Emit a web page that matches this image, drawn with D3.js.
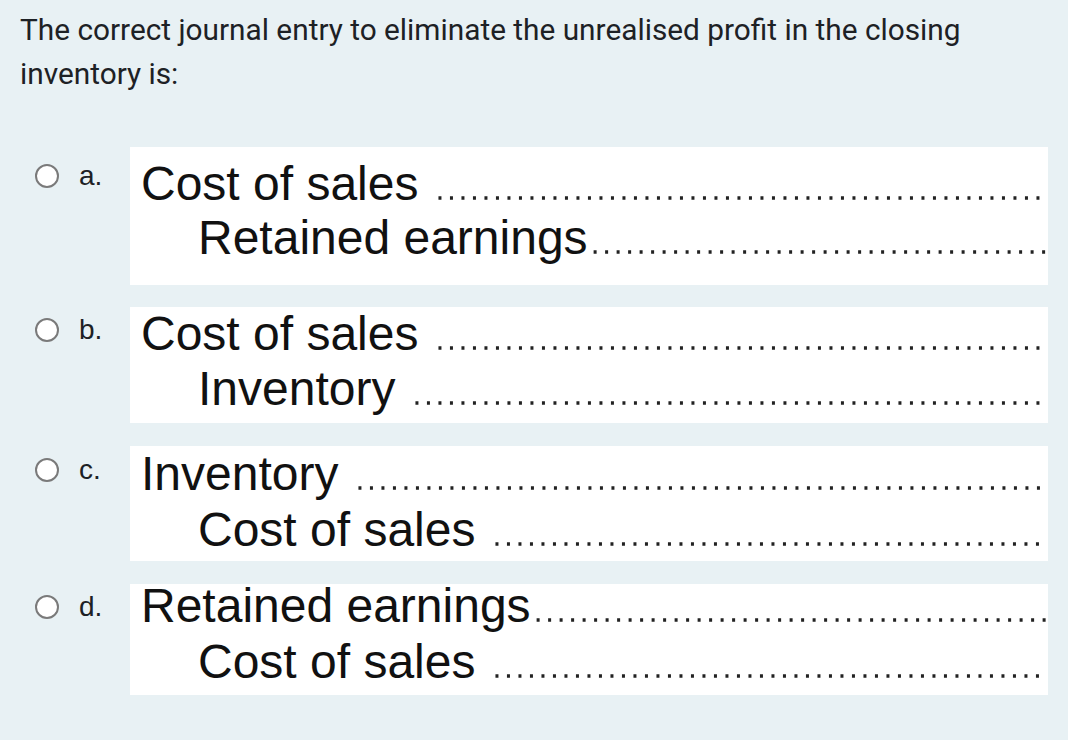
<!DOCTYPE html>
<html><head><meta charset="utf-8">
<script src="https://cdn.jsdelivr.net/npm/d3@7"></script>
<style>body{margin:0;background:#e8f1f4;}</style>
</head><body><div id="quiz"></div>
<script>
const width = 1068, height = 740;
const questionLines = ["The correct journal entry to eliminate the unrealised profit in the closing", "inventory is:"];
const letters = ["a.", "b.", "c.", "d."];
const debitLines = ["Cost of sales", "Cost of sales", "Inventory", "Retained earnings"];
const creditLines = ["Retained earnings", "Inventory", "Cost of sales", "Cost of sales"];

// layout only
const boxTops = [147, 307, 446, 584];
const boxBottoms = [285, 423, 561, 695];
const debitBase = [200, 350, 490, 622];
const creditBase = [254, 405, 546, 678];
const radioY = [176, 330, 470, 607];

let svg = d3.select('#quiz').append("svg")
    .attr("width", width).attr("height", height);

svg.append("rect").attr("width", width).attr("height", height).attr("fill", "#e8f1f4");

svg.selectAll("text.q").data(questionLines).enter().append("text")
    .attr("class", "q")
    .attr("x", 20)
    .attr("y", (d, i) => 40 + i * 44)
    .style("font-family", "Roboto, sans-serif")
    .style("font-size", "29.8px")
    .attr("fill", "#1d2125")
    .text(d => d);

let rows = svg.selectAll("g.opt").data(letters).enter().append("g").attr("class", "opt");

rows.append("rect")
    .attr("x", 130).attr("y", (d, i) => boxTops[i])
    .attr("width", 918).attr("height", (d, i) => boxBottoms[i] - boxTops[i])
    .attr("fill", "#ffffff");

rows.append("circle")
    .attr("cx", 47).attr("cy", (d, i) => radioY[i])
    .attr("r", 11)
    .attr("fill", "#fff").attr("stroke", "#7a7a7a").attr("stroke-width", 2);

rows.append("text")
    .attr("x", 79).attr("y", (d, i) => radioY[i] + 9)
    .style("font-family", "Liberation Sans, Arial, sans-serif")
    .style("font-size", "28px").attr("fill", "#1d2125")
    .text(d => d);

function entry(sel, texts, xPos, base) {
    sel.each(function(d, i) {
        let g = d3.select(this);
        let y = base[i];
        let t = g.append("text")
            .attr("x", xPos).attr("y", y)
            .style("font-family", "Liberation Sans, Arial, sans-serif")
            .style("font-size", "48px").attr("fill", "#111")
            .text(texts[i]);
        let end = xPos + t.node().getComputedTextLength() + (texts[i].length > 14 ? 6 : 20);
        g.append("line")
            .attr("x1", end).attr("x2", 1046)
            .attr("y1", y - 2).attr("y2", y - 2)
            .attr("stroke", "#222").attr("stroke-width", 3.5)
            .attr("stroke-dasharray", "3,8.5");
    });
}
entry(rows, debitLines, 141, debitBase);
entry(rows, creditLines, 198, creditBase);
</script></body></html>
